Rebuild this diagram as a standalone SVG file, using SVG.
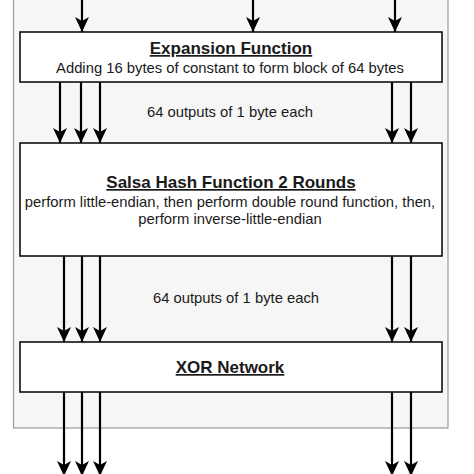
<svg xmlns="http://www.w3.org/2000/svg" width="474" height="474" viewBox="0 0 474 474">
<defs>
<marker id="ah" markerWidth="15" markerHeight="14" refX="15" refY="7" orient="auto" markerUnits="userSpaceOnUse" viewBox="0 0 15 14">
<path d="M0,0 L15,7 L0,14 L4,7 Z" fill="#000"/>
</marker>
<style>
.box{fill:#fff;stroke:#000;stroke-width:1.5}
.t{font-family:"Liberation Sans",Arial,sans-serif;fill:#1a1a1a;text-anchor:middle}
.h{font-size:17px;font-weight:bold;text-decoration:underline}
.s{font-size:14.8px}
.c line{stroke:#000;stroke-width:2.2;marker-end:url(#ah)}
</style>
</defs>
<rect width="474" height="474" fill="#fff"/>
<rect x="13.5" y="-5" width="434.5" height="433" fill="#f6f6f6" stroke="#999" stroke-width="1.2"/>
<g class="c" id="connectors">
<line x1="82" y1="0" x2="82" y2="32"/>
<line x1="253" y1="0" x2="253" y2="32"/>
<line x1="395" y1="0" x2="395" y2="32"/>
<line x1="60" y1="82" x2="60" y2="143"/>
<line x1="81" y1="82" x2="81" y2="143"/>
<line x1="100" y1="82" x2="100" y2="143"/>
<line x1="392" y1="82" x2="392" y2="143"/>
<line x1="411" y1="82" x2="411" y2="143"/>
<line x1="64" y1="256" x2="64" y2="342"/>
<line x1="82" y1="256" x2="82" y2="342"/>
<line x1="100" y1="256" x2="100" y2="342"/>
<line x1="392" y1="256" x2="392" y2="342"/>
<line x1="411" y1="256" x2="411" y2="342"/>
<line x1="64" y1="392" x2="64" y2="476"/>
<line x1="82" y1="392" x2="82" y2="476"/>
<line x1="100" y1="392" x2="100" y2="476"/>
<line x1="392" y1="392" x2="392" y2="476"/>
<line x1="411" y1="392" x2="411" y2="476"/>
</g>
<text class="t s" x="230" y="117">64 outputs of 1 byte each</text>
<text class="t s" x="236" y="303">64 outputs of 1 byte each</text>
<g id="expansion">
<rect class="box" x="20" y="32" width="422" height="50"/>
<text class="t h" x="231" y="54">Expansion Function</text>
<text class="t s" x="230" y="73">Adding 16 bytes of constant to form block of 64 bytes</text>
</g>
<g id="salsa">
<rect class="box" x="20" y="143" width="422" height="113"/>
<text class="t h" x="231" y="188">Salsa Hash Function 2 Rounds</text>
<text class="t s" x="230" y="207">perform little-endian, then perform double round function, then,</text>
<text class="t s" x="230" y="224">perform inverse-little-endian</text>
</g>
<g id="xor">
<rect class="box" x="20" y="342" width="422" height="50"/>
<text class="t h" x="230" y="373">XOR Network</text>
</g>
</svg>
